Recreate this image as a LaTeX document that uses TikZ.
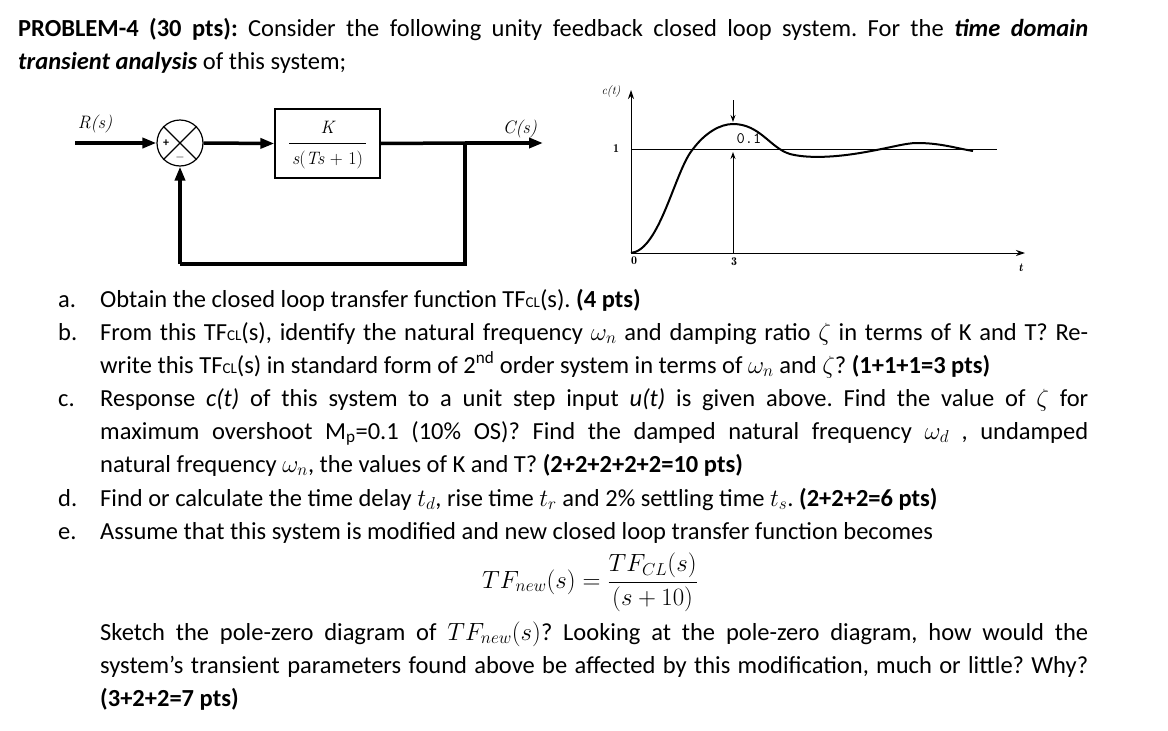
\documentclass[tikz,border=0pt]{standalone}
\usepackage{fontspec}
\setmainfont{Carlito}
\usetikzlibrary{arrows.meta}
\frenchspacing
\newcommand{\cl}{{\fontsize{15}{15}\selectfont CL}}
\newcommand{\jl}[1]{\hbox to 988pt{#1}}
\begin{document}
\begin{tikzpicture}[x=1pt,y=-1pt,
  txt/.style={anchor=base west,inner sep=0,font=\fontsize{24.5}{28}\selectfont},
  sig/.style={line width=3.5pt,-{Triangle[length=14pt,width=10pt]}},
  fb/.style={line width=3.5pt},
  ax/.style={line width=1pt,-{Stealth[length=9pt,width=6pt]}},
  thin/.style={line width=1pt},
  serif/.style={font=\fontfamily{lmr}\selectfont\itshape\fontsize{15}{15}\selectfont,inner sep=0}]
\useasboundingbox (0,0) rectangle (1168,731);
\fill[white] (0,0) rectangle (1168,731);
% header
\node[txt] (h1) at (18,36) {\hbox to 1070pt{\textbf{PROBLEM-4 (30 pts):} Consider the following unity feedback closed loop system. For the \textbf{\textit{time domain}}}};
\node[txt] (h2) at (18,69) {\textbf{\textit{transient analysis}} of this system;};
% block diagram
\coordinate (in) at (75,143);
\node[circle,draw,line width=1.2pt,minimum size=46pt,inner sep=0] (sum) at (180,143) {};
\draw[line width=1.2pt] (sum.45)--(sum.225) (sum.135)--(sum.315);
\node[font=\bfseries\fontsize{12}{12}\selectfont,inner sep=0] (pl) at (166,143) {+};
\node[font=\fontsize{12}{12}\selectfont,inner sep=0] (mi) at (180,157) {$-$};
\node[draw,line width=1.2pt,minimum width=105pt,minimum height=69pt,inner sep=0] (G) at (327.5,143.5) {};
\node[serif,font=\fontfamily{lmr}\selectfont\itshape\fontsize{18}{18}\selectfont] (K) at (327.5,127) {K};
\draw[line width=1pt] (289,143)--(366,143);
\node[serif,font=\fontfamily{lmr}\selectfont\fontsize{18}{18}\selectfont] (den) at (327.5,160) {\textit{s}(\textit{Ts} + 1)};
\coordinate (br) at (465,143);
\coordinate (out) at (543,143);
\coordinate (b1) at (465,264);
\coordinate (b2) at (180,264);
\draw[sig] (in)--(sum.west);
\draw[sig] (sum.east)--(G.west);
\draw[fb] (G.east)--(br);
\draw[sig] (br)--(out);
\draw[fb] (br)--(b1)--(b2);
\draw[sig] (b2)--(sum.south);
\node[serif,font=\fontfamily{lmr}\selectfont\itshape\fontsize{18}{18}\selectfont] (R) at (95,124) {R(s)};
\node[serif,font=\fontfamily{lmr}\selectfont\itshape\fontsize{18}{18}\selectfont] (C) at (520,129) {C(s)};
% plot
\coordinate (O) at (631,253);
\coordinate (ytop) at (631,90);
\coordinate (xend) at (1025,253);
\draw[ax] (O)--(ytop);
\draw[ax] (O)--(xend);
\coordinate (one) at (631,149);
\coordinate (oneE) at (997,149);
\draw[thin] (one)--(oneE);
\draw[line width=2pt] (631,253) .. controls (660,250) and (675,170) .. (693,149)
  .. controls (705,133) and (720,124) .. (733,124)
  .. controls (760,124) and (770,148) .. (790,154)
  .. controls (805,158) and (830,158) .. (860,153)
  .. controls (890,148) and (905,143) .. (917,143)
  .. controls (940,143) and (955,148) .. (973,151);
\coordinate (p3) at (733,253);
\coordinate (p3t) at (733,152);
\coordinate (pk) at (733,122);
\coordinate (pkt) at (733,100);
\draw[thin,-{Stealth[length=7pt,width=5pt]}] (p3)--(p3t);
\draw[thin,-{Stealth[length=7pt,width=5pt]}] (pkt)--(pk);
\node[font=\ttfamily\fontsize{16}{16}\selectfont,inner sep=0] (p01) at (749,139) {0.1};
\node[serif,font=\fontfamily{lmr}\selectfont\bfseries\fontsize{12}{12}\selectfont] (l1) at (616,149) {1};
\node[serif,font=\fontfamily{lmr}\selectfont\bfseries\fontsize{12}{12}\selectfont] (l0) at (634,261) {0};
\node[serif,font=\fontfamily{lmr}\selectfont\bfseries\fontsize{12}{12}\selectfont] (l3) at (734,262) {3};
\node[serif,font=\fontfamily{lmr}\selectfont\itshape\bfseries\fontsize{12}{12}\selectfont] (lt) at (1021,268) {t};
\node[serif,font=\fontfamily{lmr}\selectfont\itshape\fontsize{12}{12}\selectfont] (lc) at (611,92) {c(t)};
% items
\node[txt] (ia) at (58,307) {a.};
\node[txt] (ta) at (100,307) {Obtain the closed loop transfer function TF\cl(s). \textbf{(4 pts)}};
\node[txt] (ib) at (58,340) {b.};
\node[txt] (tb1) at (100,340) {\jl{From this TF\cl(s), identify the natural frequency $\omega_n$ and damping ratio $\zeta$ in terms of K and T? Re-}};
\node[txt] (tb2) at (100,373) {write this TF\cl(s) in standard form of 2\textsuperscript{nd} order system in terms of $\omega_n$ and $\zeta$? \textbf{(1+1+1=3 pts)}};
\node[txt] (ic) at (58,406) {c.};
\node[txt] (tc1) at (100,406) {\jl{Response \textit{c(t)} of this system to a unit step input \textit{u(t)} is given above. Find the value of $\zeta$ for}};
\node[txt] (tc2) at (100,439) {\jl{maximum overshoot M\textsubscript{p}=0.1 (10\% OS)? Find the damped natural frequency $\omega_d$ , undamped}};
\node[txt] (tc3) at (100,472) {natural frequency $\omega_n$, the values of K and T? \textbf{(2+2+2+2+2=10 pts)}};
\node[txt] (id) at (58,506) {d.};
\node[txt] (td) at (100,506) {Find or calculate the time delay $t_d$, rise time $t_r$ and 2\% settling time $t_s$. \textbf{(2+2+2=6 pts)}};
\node[txt] (ie) at (58,539) {e.};
\node[txt] (te) at (100,539) {Assume that this system is modified and new closed loop transfer function becomes};
\node[font=\fontsize{23}{26}\selectfont,inner sep=0] (eq) at (590,582) {$\displaystyle TF_{new}(s)=\frac{TF_{CL}(s)}{(s+10)}$};
\node[txt] (s1) at (100,640) {\jl{Sketch the pole-zero diagram of $TF_{new}(s)$? Looking at the pole-zero diagram, how would the}};
\node[txt] (s2) at (100,673) {\jl{system's transient parameters found above be affected by this modification, much or little? Why?}};
\node[txt] (s3) at (100,706) {\textbf{(3+2+2=7 pts)}};
\end{tikzpicture}
\end{document}
